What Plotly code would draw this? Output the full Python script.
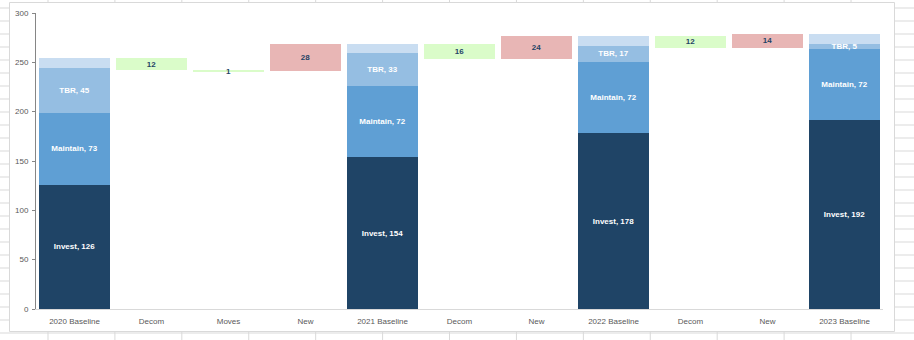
import plotly.graph_objects as go

# ---- data -------------------------------------------------------------
categories = ["2020 Baseline", "Decom", "Moves", "New", "2021 Baseline",
              "Decom", "New", "2022 Baseline", "Decom", "New", "2023 Baseline"]

# baseline stacks (one entry per baseline column)
baseline_idx = [0, 4, 7, 10]
invest = [126, 154, 178, 192]
maintain = [73, 72, 72, 72]
tbr = [45, 33, 17, 5]
other = [10, 10, 10, 10]

# changes between baselines (None = baseline column)
changes = [None, -12, -1, 28, None, -16, 24, None, -12, 14, None]

# ---- styling ----------------------------------------------------------
FONT = "Liberation Sans, Arial, sans-serif"
C_INVEST = "#1F4466"
C_MAINTAIN = "#5F9FD4"
C_TBR = "#95BEE2"
C_OTHER = "#C9DDF1"
C_DOWN = "#DAFCC9"
C_UP = "#E8B6B5"
C_LABEL_DARK = "#1F4466"

W, H = 914, 340
L, R, T, B = 36, 31, 13, 31
PW, PH = W - L - R, H - T - B

def px(x):
    return (x - L) / PW

def py(y):
    return (H - B - y) / PH

fig = go.Figure()

# ---- baseline stacked segments ---------------------------------------
for name, vals, color, show in [("Invest", invest, C_INVEST, True),
                                ("Maintain", maintain, C_MAINTAIN, True),
                                ("TBR", tbr, C_TBR, True),
                                ("Other", other, C_OTHER, False)]:
    fig.add_trace(go.Bar(
        x=baseline_idx, y=vals, name=name,
        marker=dict(color=color, line=dict(width=0)),
        text=[f"{name}, {v}" for v in vals] if show else None,
        textposition="inside", insidetextanchor="middle",
        constraintext="none", textangle=0,
        textfont=dict(family=FONT, size=8, color="white", weight="bold"),
        hoverinfo="skip",
    ))

# ---- waterfall steps --------------------------------------------------
base_x, base_y, step_x, step_y, step_c = [], [], [], [], []
running = 0
for i, d in enumerate(changes):
    if d is None:
        k = baseline_idx.index(i)
        running = invest[k] + maintain[k] + tbr[k] + other[k]
        continue
    lo = min(running, running + d)
    base_x.append(i)
    base_y.append(lo)
    step_x.append(i)
    step_y.append(abs(d))
    step_c.append(C_DOWN if d < 0 else C_UP)
    running += d

fig.add_trace(go.Bar(
    x=base_x, y=base_y, marker=dict(color="rgba(0,0,0,0)", line=dict(width=0)),
    hoverinfo="skip", showlegend=False,
))
fig.add_trace(go.Bar(
    x=step_x, y=step_y,
    marker=dict(color=step_c, line=dict(width=0)),
    text=[str(v) for v in step_y],
    textposition="inside", insidetextanchor="middle", constraintext="none",
    textangle=0,
    textfont=dict(family=FONT, size=8, color=C_LABEL_DARK, weight="bold"),
    hoverinfo="skip", showlegend=False,
))

# ---- worksheet grid behind the chart ---------------------------------
shapes = []
grid = "#D9D9D9"
for k in range(27):
    y = 8 + 13 * k
    shapes.append(dict(type="line", xref="paper", yref="paper", layer="below",
                       x0=px(0), x1=px(W), y0=py(y), y1=py(y),
                       line=dict(color=grid, width=1)))
for k in range(14):
    x = 48 + 66.92 * k
    shapes.append(dict(type="line", xref="paper", yref="paper", layer="below",
                       x0=px(x), x1=px(x), y0=py(0), y1=py(H),
                       line=dict(color=grid, width=1)))
# chart area
shapes.append(dict(type="rect", xref="paper", yref="paper", layer="below",
                   x0=px(9.5), x1=px(894.5), y0=py(2.5), y1=py(331.5),
                   fillcolor="white", line=dict(color=grid, width=1)))

fig.update_layout(
    width=W, height=H,
    margin=dict(l=L, r=R, t=T, b=B, autoexpand=False),
    barmode="stack", bargap=0.09,
    showlegend=False,
    paper_bgcolor="white", plot_bgcolor="rgba(0,0,0,0)",
    font=dict(family=FONT, size=8, color="#595959"),
    shapes=shapes,
    xaxis=dict(
        tickmode="array", tickvals=list(range(len(categories))),
        ticktext=categories, range=[-0.5, len(categories) - 0.5],
        showgrid=False, zeroline=False, showline=True,
        linecolor="#D9D9D9", linewidth=1, ticks="",
        tickfont=dict(family=FONT, size=8, color="#595959"),
        ticklabelstandoff=4,
    ),
    yaxis=dict(
        range=[0, 300], tickvals=[0, 50, 100, 150, 200, 250, 300],
        showgrid=False, zeroline=False, showline=True,
        linecolor="#868686", linewidth=1, ticks="outside", ticklen=3,
        tickcolor="#868686",
        tickfont=dict(family=FONT, size=8, color="#595959"),
        ticklabelstandoff=2,
    ),
)

fig.write_html("out.html")
